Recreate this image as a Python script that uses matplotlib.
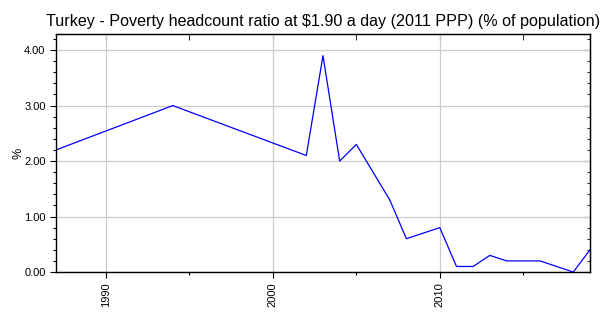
import matplotlib
matplotlib.use("Agg")
import matplotlib.pyplot as plt
from matplotlib.ticker import MultipleLocator, FormatStrFormatter

plt.rcParams['font.family'] = ['Liberation Sans', 'DejaVu Sans']

years = [1987, 1994, 2002, 2003, 2004, 2005, 2006, 2007, 2008, 2010,
         2011, 2012, 2013, 2014, 2015, 2016, 2017, 2018, 2019]
values = [2.2, 3.0, 2.1, 3.9, 2.0, 2.3, 1.8, 1.3, 0.6, 0.8,
          0.1, 0.1, 0.3, 0.2, 0.2, 0.2, 0.1, 0.0, 0.4]

title = "Turkey - Poverty headcount ratio at $1.90 a day (2011 PPP) (% of population)"

fig = plt.figure(figsize=(6.0, 3.15), dpi=100)
ax = fig.add_axes([0.0933, 0.1365, 0.8900, 0.7555])

ax.plot(years, values, color='#0000ff', lw=0.9)

ax.set_xlim(1987, 2019)
ax.set_ylim(0, 4.29)
ax.xaxis.set_major_locator(MultipleLocator(10))
ax.xaxis.set_minor_locator(MultipleLocator(5))
ax.yaxis.set_major_locator(MultipleLocator(1))
ax.yaxis.set_minor_locator(MultipleLocator(0.2))
ax.yaxis.set_major_formatter(FormatStrFormatter('%.2f'))
ax.grid(True, which='major', color='#cccccc', lw=0.9)

ax.tick_params(which='major', direction='out', length=4, width=0.8, labelsize=8)
ax.tick_params(which='minor', direction='out', length=2, width=0.8)
ax.tick_params(axis='x', labelrotation=90)

for s in ax.spines.values():
    s.set_linewidth(1.0)

# inward ticks on the top and right edges
top = ax.secondary_xaxis('top')
top.xaxis.set_major_locator(MultipleLocator(10))
top.xaxis.set_minor_locator(MultipleLocator(5))
top.tick_params(which='major', direction='in', length=4, labeltop=False)
top.tick_params(which='minor', direction='in', length=4)
right = ax.secondary_yaxis('right')
right.yaxis.set_major_locator(MultipleLocator(1))
right.yaxis.set_minor_locator(MultipleLocator(0.2))
right.tick_params(which='major', direction='in', length=4, labelright=False)
right.tick_params(which='minor', direction='in', length=2)

ax.set_ylabel('%', fontsize=9, labelpad=0)
ax.set_title(title, fontsize=11.6, pad=6)

fig.savefig('out.png', dpi=100)
